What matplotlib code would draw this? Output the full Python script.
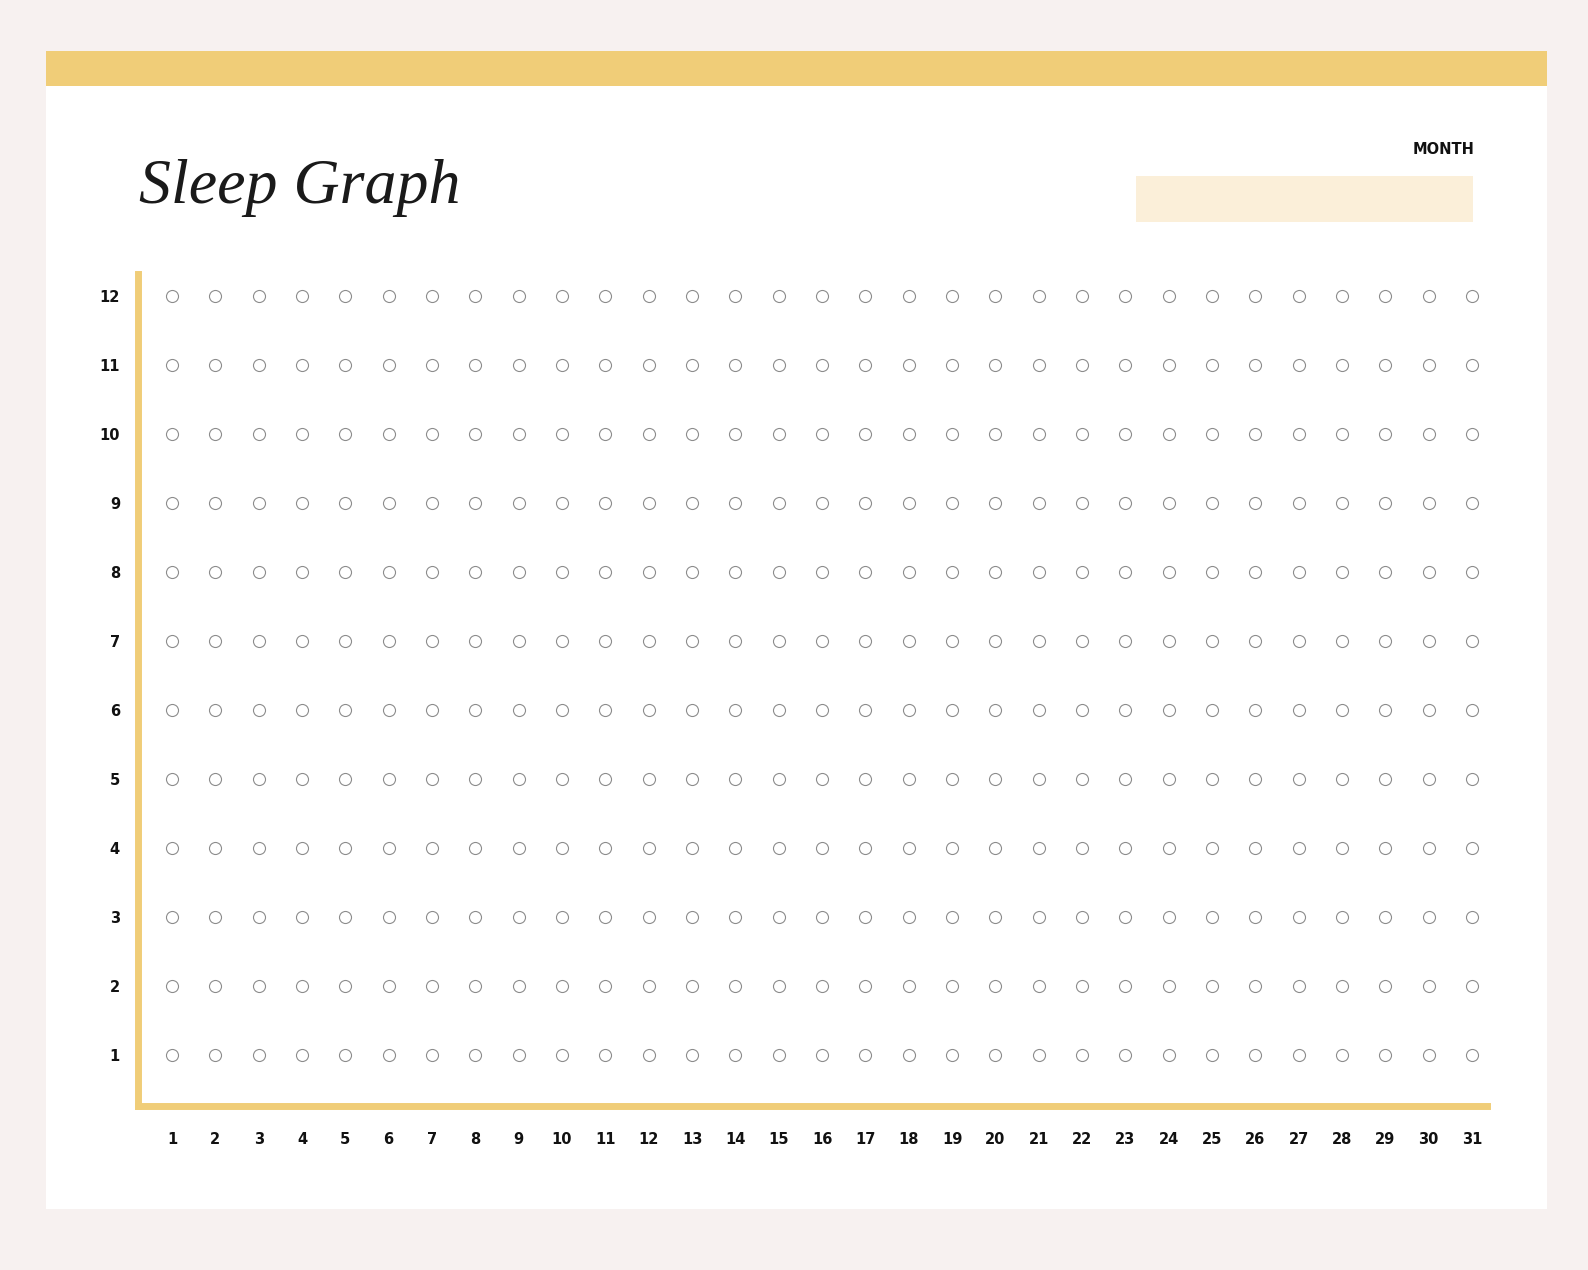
import numpy as np
import matplotlib
matplotlib.use('Agg')
import matplotlib.pyplot as plt
from matplotlib.patches import Rectangle

# Adatok
days = list(range(1, 32))
hours = list(range(1, 13))
title = 'Sleep Graph'
month_label = 'MONTH'

W, H = 1588, 1270
yellow = '#f0cd78'
bg = '#f7f1f0'
month_fill = '#fbefd9'

fig = plt.figure(figsize=(W / 100, H / 100), dpi=100, facecolor=bg)

def px_rect(x0, y0, x1, y1, color, z=0):
    # pixel koordinatak (felulrol) -> figure fraction
    r = Rectangle((x0 / W, 1 - y1 / H), (x1 - x0) / W, (y1 - y0) / H,
                  transform=fig.transFigure, facecolor=color, edgecolor='none', zorder=z)
    fig.add_artist(r)

px_rect(46, 51, 1547, 1209, 'white')
px_rect(46, 51, 1547, 86, yellow)
px_rect(1136, 176, 1473, 222, month_fill)

fig.text(139 / W, 1 - 188 / H, title, fontsize=46, family='Liberation Serif',
         style='italic', va='center', ha='left', color='#1a1a1a')
fig.text(1474 / W, 1 - 149 / H, month_label, fontsize=10.5, family='DejaVu Sans',
         weight='bold', va='center', ha='right', color='#111111')

# Fo tengely
left, right, top, bottom = 138, 1487, 274, 1106
ax = fig.add_axes([left / W, 1 - bottom / H, (right - left) / W, (bottom - top) / H])
ax.set_facecolor('none')

xx, yy = np.meshgrid(days, hours)
ax.scatter(xx.ravel(), yy.ravel(), s=75, facecolor='white', edgecolor='#8c8c8c',
           linewidth=0.8, zorder=3, clip_on=False)

step_x = (1472 - 172) / 30
step_y = (1055 - 296) / 11
ax.set_xlim(1 - (172 - left) / step_x, 31 + (right - 1472) / step_x)
ax.set_ylim(1 - (bottom - 1055) / step_y, 12 + (296 - top) / step_y)

for s in ['top', 'right']:
    ax.spines[s].set_visible(False)
for s in ['left', 'bottom']:
    ax.spines[s].set_color(yellow)
    ax.spines[s].set_linewidth(5.0)

ax.set_xticks(days)
ax.set_yticks(hours)
ax.tick_params(length=0, labelsize=10.5, colors='#111111')
ax.tick_params(axis='x', pad=19)
ax.tick_params(axis='y', pad=13)
for lab in ax.get_xticklabels() + ax.get_yticklabels():
    lab.set_fontweight('bold')

fig.savefig('out.png', dpi=100, facecolor=bg)
